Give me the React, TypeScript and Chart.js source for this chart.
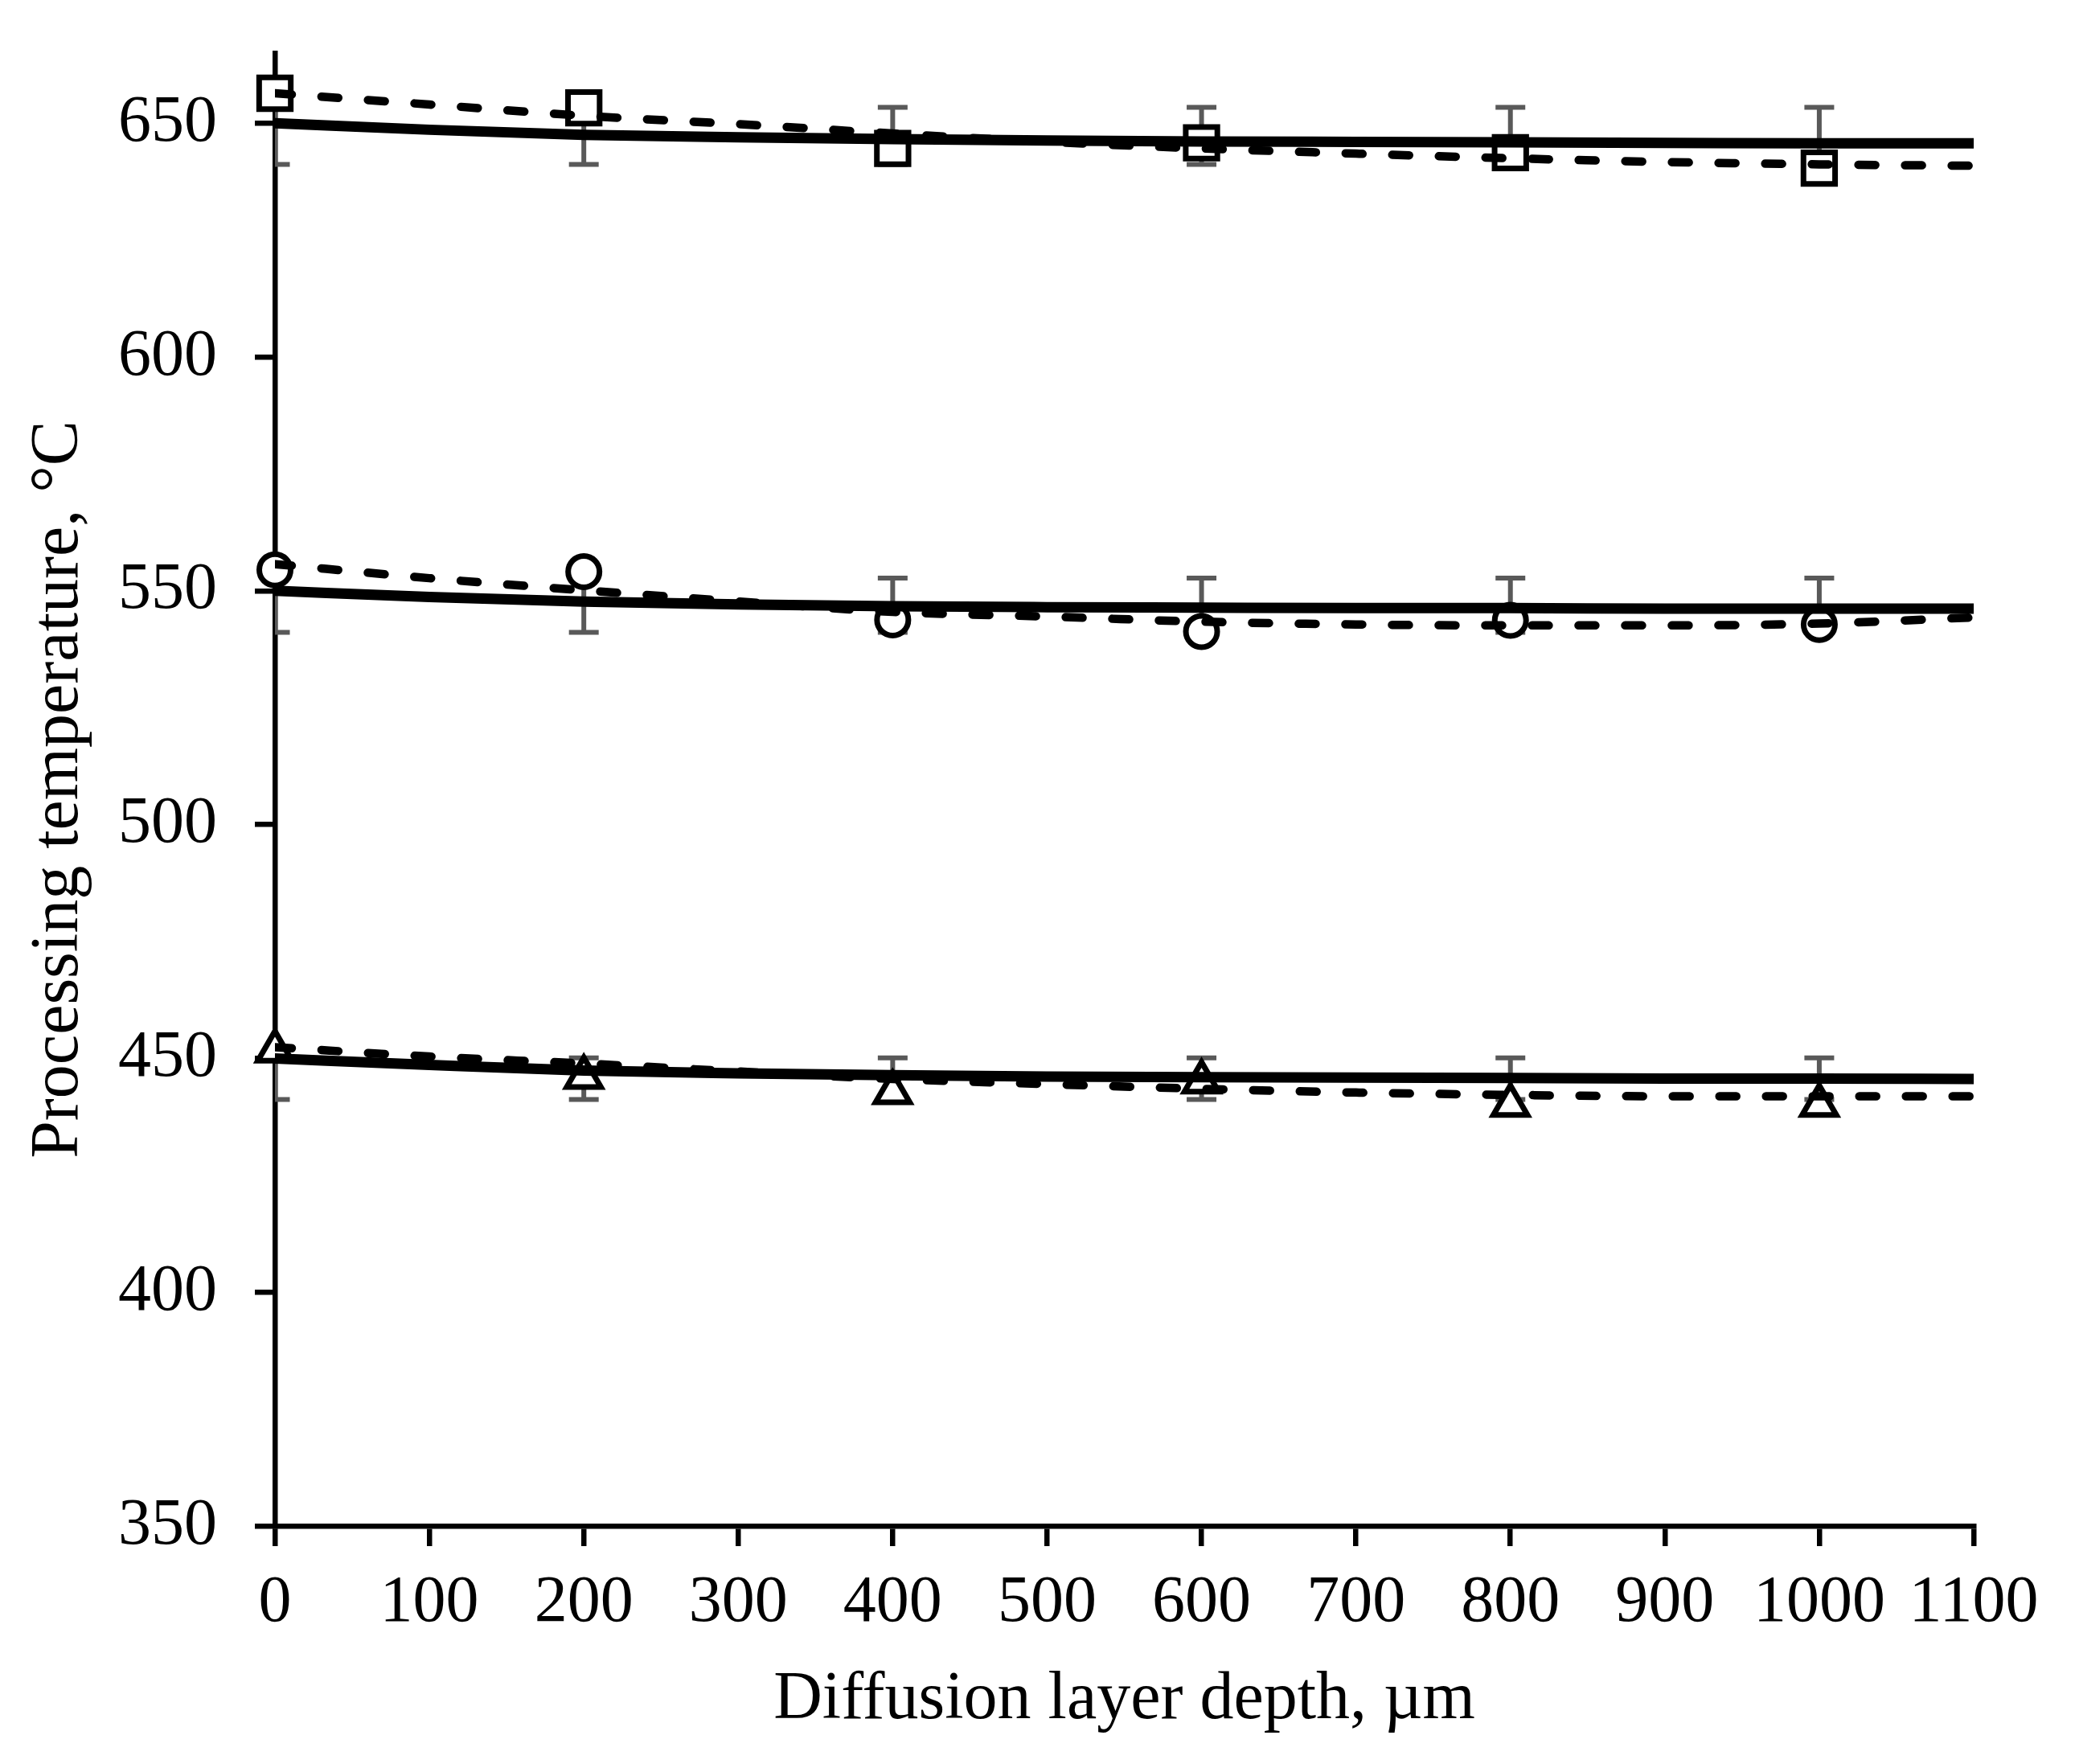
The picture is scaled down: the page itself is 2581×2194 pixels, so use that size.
import React, { useEffect, useRef } from "react";
import { Chart, registerables } from "chart.js";

Chart.register(...registerables);

// ---- data ----
const depthPoints = [0, 200, 400, 600, 800, 1000];
const squareTemps = [656.4, 653.3, 644.6, 645.8, 643.7, 640.4];
const circleTemps = [554.5, 554.1, 543.8, 541.3, 543.7, 542.8];
const triangleTemps = [451.6, 446.0, 442.7, 445.0, 440.0, 440.0];

const squareErrLow = [641.2, 641.2, 641.2, 641.2, 641.2, 641.2];
const squareErrHigh = [653.4, 653.4, 653.4, 653.4, 653.4, 653.4];
const circleErrLow = [541.1, 541.1, 541.1, 541.1, 541.1, 541.1];
const circleErrHigh = [554.5, 552.7, 552.7, 552.7, 552.7, 552.7];
const triangleErrLow = [441.2, 441.2, 441.2, 441.2, 441.2, 441.2];
const triangleErrHigh = [450.1, 450.1, 450.1, 450.1, 450.1, 450.1];

const curveDepths = [0, 100, 200, 300, 400, 500, 600, 700, 800, 900, 1000, 1100];
const squareSolid = [650.0, 648.6, 647.5, 647.0, 646.6, 646.3, 646.1, 646.0, 645.9, 645.8, 645.7, 645.7];
const squareDashed = [656.4, 654.0, 651.6, 649.8, 647.8, 646.0, 644.6, 643.5, 642.5, 641.7, 641.2, 640.9];
const circleSolid = [550.0, 548.7, 547.7, 547.1, 546.7, 546.5, 546.4, 546.3, 546.3, 546.2, 546.2, 546.2];
const circleDashed = [555.7, 552.7, 550.1, 547.7, 545.5, 544.5, 543.4, 542.8, 542.6, 542.6, 543.0, 544.3];
const triangleSolid = [450.0, 448.6, 447.4, 446.8, 446.4, 446.1, 446.0, 445.9, 445.8, 445.7, 445.7, 445.6];
const triangleDashed = [452.4, 450.4, 448.9, 447.2, 445.6, 444.5, 443.5, 442.7, 442.2, 441.9, 441.9, 441.9];

const xTickValues = [0, 100, 200, 300, 400, 500, 600, 700, 800, 900, 1000, 1100];
const yTickValues = [350, 400, 450, 500, 550, 600, 650];

const xTitle = "Diffusion layer depth, \u00b5m";
const yTitle = "Processing temperature, \u00b0C";

const FONT = "'Liberation Serif', 'Times New Roman', serif";

const toPts = (xs: number[], ys: number[]) => xs.map((x, i) => ({ x, y: ys[i] }));

const errorBarPlugin = {
  id: "errorBars",
  beforeDatasetsDraw(chart: any) {
    const { ctx, chartArea, scales } = chart;
    const xs = scales.x;
    const ys = scales.y;
    const groups = [
      [squareErrLow, squareErrHigh],
      [circleErrLow, circleErrHigh],
      [triangleErrLow, triangleErrHigh],
    ];
    ctx.save();
    ctx.beginPath();
    ctx.rect(chartArea.left, chartArea.top, chartArea.right - chartArea.left, chartArea.bottom - chartArea.top);
    ctx.clip();
    ctx.strokeStyle = "#595959";
    ctx.lineWidth = 6;
    ctx.lineCap = "butt";
    const half = 18.5;
    for (const [lo, hi] of groups) {
      depthPoints.forEach((d, i) => {
        const px = xs.getPixelForValue(d);
        const y1 = ys.getPixelForValue(lo[i]);
        const y2 = ys.getPixelForValue(hi[i]);
        ctx.beginPath();
        ctx.moveTo(px, y1);
        ctx.lineTo(px, y2);
        ctx.moveTo(px - half, y1);
        ctx.lineTo(px + half, y1);
        ctx.moveTo(px - half, y2);
        ctx.lineTo(px + half, y2);
        ctx.stroke();
      });
    }
    ctx.restore();
  },
};

export default function App() {
  const canvasRef = useRef<HTMLCanvasElement | null>(null);

  useEffect(() => {
    document.body.style.margin = "0";
    document.body.style.overflow = "hidden";
    const canvas = canvasRef.current;
    if (!canvas) return;

    const markerDs = (ys: number[], style: string, radius: number) => ({
      type: "line" as const,
      data: toPts(depthPoints, ys),
      showLine: false,
      pointStyle: style,
      pointRadius: radius,
      pointHoverRadius: radius,
      pointBackgroundColor: "#ffffff",
      pointBorderColor: "#000000",
      pointBorderWidth: 7,
      clip: false as any,
      order: 2,
    });
    const solidDs = (ys: number[]) => ({
      type: "line" as const,
      data: toPts(curveDepths, ys),
      borderColor: "#000000",
      borderWidth: 13,
      borderCapStyle: "round" as const,
      cubicInterpolationMode: "monotone" as const,
      pointRadius: 0,
      fill: false,
      order: 0,
    });
    const dashedDs = (ys: number[]) => ({
      type: "line" as const,
      data: toPts(curveDepths, ys),
      borderColor: "#000000",
      borderWidth: 10.5,
      borderDash: [21, 37],
      borderCapStyle: "round" as const,
      cubicInterpolationMode: "monotone" as const,
      pointRadius: 0,
      fill: false,
      order: 1,
    });

    const chart = new Chart(canvas, {
      type: "line",
      data: {
        datasets: [
          markerDs(squareTemps, "rect", 27.8),
          markerDs(circleTemps, "circle", 19.5),
          markerDs(triangleTemps, "triangle", 24.5),
          dashedDs(squareDashed),
          dashedDs(circleDashed),
          dashedDs(triangleDashed),
          solidDs(squareSolid),
          solidDs(circleSolid),
          solidDs(triangleSolid),
        ] as any,
      },
      options: {
        animation: false,
        responsive: false,
        devicePixelRatio: 1,
        layout: { padding: { top: 66, right: 126, left: 0, bottom: 0 } },
        plugins: {
          legend: { display: false },
          tooltip: { enabled: false },
        },
        events: [],
        scales: {
          x: {
            type: "linear",
            min: 0,
            max: 1100,
            afterFit: (s: any) => {
              s.height = 296;
              s.paddingLeft = 0;
              s.paddingRight = 0;
            },
            afterBuildTicks: (s: any) => {
              s.ticks = xTickValues.map((v) => ({ value: v }));
            },
            grid: {
              drawOnChartArea: false,
              drawTicks: true,
              tickLength: 25,
              lineWidth: 6.5,
              color: "#000000",
            },
            border: { display: true, width: 6.5, color: "#000000" },
            ticks: {
              padding: 22,
              color: "#000000",
              font: { family: FONT, size: 82 },
              maxRotation: 0,
              autoSkip: false,
              callback: (v: any) => String(v),
            },
            title: {
              display: true,
              text: xTitle,
              color: "#000000",
              font: { family: FONT, size: 84 },
              padding: { top: 0, bottom: 29 },
            },
          },
          y: {
            type: "linear",
            min: 350,
            max: 665,
            afterFit: (s: any) => {
              s.width = 342;
              s.paddingTop = 0;
              s.paddingBottom = 0;
            },
            afterBuildTicks: (s: any) => {
              s.ticks = yTickValues.map((v) => ({ value: v }));
            },
            grid: {
              drawOnChartArea: false,
              drawTicks: true,
              tickLength: 25,
              lineWidth: 6.5,
              color: "#000000",
            },
            border: { display: true, width: 6.5, color: "#000000" },
            ticks: {
              padding: 47,
              color: "#000000",
              font: { family: FONT, size: 82 },
              autoSkip: false,
              callback: (v: any) => String(v),
            },
            title: {
              display: true,
              text: yTitle,
              color: "#000000",
              font: { family: FONT, size: 84 },
              padding: { top: 24, bottom: 0 },
            },
          },
        },
      },
      plugins: [errorBarPlugin],
    });

    return () => {
      chart.destroy();
    };
  }, []);

  return (
    <div style={{ width: 2581, height: 2194, background: "#ffffff" }}>
      <canvas ref={canvasRef} width={2581} height={2194} style={{ display: "block" }} />
    </div>
  );
}
